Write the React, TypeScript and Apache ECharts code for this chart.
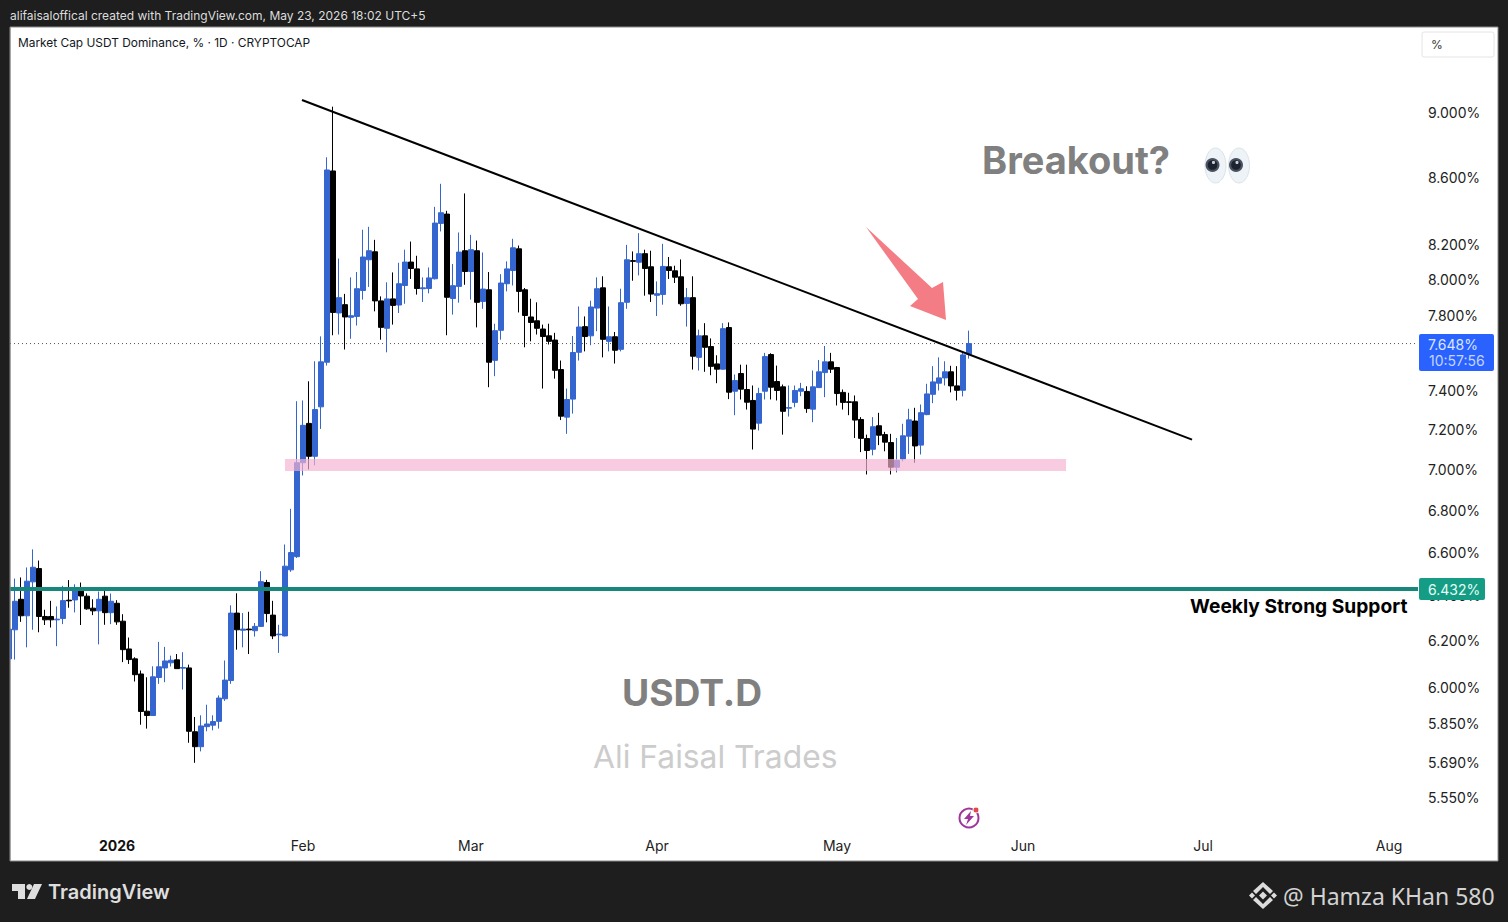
import React, { useEffect, useRef } from "react";
import * as echarts from "echarts";

// Day offset from 1 Jan 2026 of the first candle
const firstDay = -18;
const opens = [6.122,6.249,6.385,6.311,6.464,6.525,6.308,6.308,6.293,6.299,6.381,6.382,6.426,6.399,6.345,6.333,6.399,6.325,6.367,6.287,6.165,6.122,6.057,5.900,5.882,6.042,6.083,6.105,6.118,6.082,6.083,5.815,
5.754,5.836,5.842,5.858,5.952,6.029,6.323,6.247,6.252,6.245,6.264,6.461,6.314,6.227,6.222,6.519,6.580,7.031,7.229,7.063,7.314,7.548,8.639,7.815,7.861,7.791,7.796,7.940,8.114,8.160,7.882,7.731,7.893,7.859,7.968,8.101,8.062,7.950,7.951,8.006,8.325,8.380,7.895,7.963,8.166,8.047,8.166,7.879,7.944,7.558,7.720,7.978,8.053,8.177,7.944,7.793,7.772,7.727,7.690,7.667,7.509,7.261,7.354,7.601,7.740,7.690,7.842,7.955,7.660,7.685,7.617,7.874,8.109,8.100,8.149,8.074,7.913,7.918,8.074,8.051,8.017,7.868,7.900,7.574,7.690,7.632,7.539,7.511,7.735,7.395,7.488,7.404,7.347,7.230,7.395,7.589,7.446,7.418,7.307,7.337,7.395,7.394,7.302,7.414,7.493,7.550,7.520,7.389,7.340,7.340,7.249,7.152,7.098,7.217,7.172,7.132,7.009,7.050,7.164,7.241,7.119,7.274,7.379,7.437,7.465,7.497,7.423,7.400,7.591];
const closes = [6.252,6.376,6.311,6.467,6.531,6.308,6.293,6.293,6.296,6.379,6.378,6.434,6.400,6.342,6.333,6.385,6.325,6.376,6.284,6.162,6.119,6.054,5.899,5.882,6.045,6.088,6.113,6.116,6.080,6.085,5.817,5.754,
5.839,5.847,5.857,5.955,6.031,6.323,6.249,6.252,6.249,6.264,6.465,6.321,6.222,6.230,6.536,6.599,7.031,7.219,7.063,7.300,7.550,8.645,7.818,7.900,7.793,7.800,7.950,8.130,8.166,7.882,7.736,7.893,7.857,7.978,8.101,8.064,7.951,7.955,8.011,8.327,8.388,7.902,7.967,8.158,8.047,8.172,7.874,7.948,7.548,7.718,7.982,8.062,8.183,7.935,7.801,7.763,7.731,7.686,7.660,7.505,7.266,7.352,7.600,7.738,7.686,7.848,7.950,7.671,7.685,7.612,7.872,8.114,8.105,8.149,8.064,7.920,7.922,8.076,8.053,8.015,7.866,7.900,7.580,7.690,7.628,7.526,7.511,7.729,7.390,7.451,7.406,7.338,7.200,7.383,7.578,7.416,7.399,7.291,7.310,7.399,7.408,7.305,7.418,7.497,7.550,7.511,7.383,7.337,7.337,7.246,7.153,7.092,7.212,7.169,7.134,7.009,7.042,7.166,7.247,7.115,7.284,7.381,7.444,7.465,7.497,7.423,7.400,7.587,7.648];
const lows = [6.114,6.119,6.284,6.172,6.249,6.238,6.270,6.259,6.177,6.274,6.347,6.326,6.270,6.338,6.314,6.185,6.271,6.274,6.271,6.108,6.100,6.025,5.844,5.828,5.880,6.015,6.022,6.089,6.079,5.991,5.770,5.689,
5.735,5.817,5.821,5.828,5.943,6.015,6.162,6.172,6.143,6.219,6.262,6.282,6.208,6.148,6.220,6.510,6.574,6.968,6.998,7.018,7.201,7.530,7.693,7.697,7.616,7.674,7.746,7.889,7.960,7.824,7.669,7.601,7.751,7.815,7.866,8.005,7.917,7.876,7.924,8.002,8.278,7.693,7.806,7.872,7.972,7.889,7.736,7.838,7.416,7.474,7.669,7.935,7.968,7.818,7.628,7.660,7.697,7.409,7.643,7.461,7.246,7.176,7.279,7.557,7.606,7.639,7.715,7.574,7.606,7.541,7.606,7.838,7.995,8.025,7.911,7.876,7.798,7.861,8.005,7.982,7.855,7.740,7.509,7.504,7.497,7.479,7.437,7.509,7.354,7.271,7.352,7.300,7.097,7.193,7.352,7.352,7.347,7.172,7.264,7.312,7.369,7.283,7.235,7.413,7.364,7.491,7.321,7.300,7.271,7.155,7.084,6.973,7.068,7.119,7.088,6.973,6.983,7.038,7.075,7.031,7.072,7.271,7.333,7.399,7.425,7.389,7.347,7.368,7.567];
const highs = [6.274,6.479,6.484,6.530,6.614,6.562,6.338,6.378,6.353,6.446,6.472,6.453,6.461,6.412,6.385,6.420,6.427,6.411,6.381,6.318,6.215,6.129,6.072,6.043,6.090,6.196,6.174,6.136,6.143,6.151,6.097,5.876,
5.883,5.927,5.883,5.966,6.115,6.358,6.412,6.323,6.329,6.279,6.513,6.473,6.378,6.271,6.637,6.806,7.343,7.347,7.447,7.553,7.687,8.723,9.040,8.121,7.921,8.014,8.044,8.288,8.305,8.229,7.907,7.986,8.042,8.097,8.172,8.219,8.137,8.014,8.070,8.423,8.561,8.399,8.090,8.272,8.503,8.258,8.225,8.156,8.044,7.756,8.032,8.105,8.235,8.196,7.954,7.894,7.874,7.751,7.756,7.706,7.557,7.409,7.689,7.851,7.796,7.883,8.014,8.020,7.851,7.711,7.950,8.200,8.162,8.268,8.172,8.166,7.991,8.206,8.130,8.080,8.116,7.954,8.020,7.724,7.759,7.676,7.585,7.759,7.763,7.483,7.535,7.535,7.425,7.413,7.598,7.596,7.530,7.430,7.425,7.425,7.439,7.421,7.504,7.560,7.635,7.598,7.523,7.404,7.387,7.373,7.261,7.172,7.261,7.283,7.186,7.176,7.155,7.227,7.304,7.309,7.326,7.434,7.527,7.574,7.553,7.529,7.527,7.598,7.718];

const priceTicks = [9, 8.6, 8.2, 8, 7.8, 7.4, 7.2, 7, 6.8, 6.6, 6.4, 6.2, 6, 5.85, 5.69, 5.55];
const monthDays = [0, 31, 59, 90, 120, 151, 181, 212];
const monthLabels = ["2026", "Feb", "Mar", "Apr", "May", "Jun", "Jul", "Aug"];

const xMin = -17.83;
const xMax = 216.83;
const yMin = 5.308;
const yMax = 9.563;

const lastPrice = 7.648;
const supportPrice = 6.432;
const trendLine = [[30.83, 9.083], [179.17, 7.147]];
const supportZone = [[28, 158.17, 6.99, 7.049]];

const headerText = "alifaisaloffical created with TradingView.com, May 23, 2026 18:02 UTC+5";
const titleText = "Market Cap USDT Dominance, % \u00b7 1D \u00b7 CRYPTOCAP";

const UI = "Inter, 'Noto Sans', sans-serif";
const BLUE = "#3566cf";

function txt(x: number, y: number, text: string, fontSize: number, fill: string, extra: any = {}, z = 30) {
  return {
    type: "text", x, y, z,
    style: { text, fontSize, fill, fontFamily: UI, textVerticalAlign: "middle", verticalAlign: "middle", ...extra },
  };
}
function poly(points: number[][], fill: string, z = 30) {
  return { type: "polygon", z, shape: { points }, style: { fill } };
}

export default function App() {
  const ref = useRef<HTMLDivElement>(null);
  useEffect(() => {
    document.body.style.margin = "0";
    const chart = echarts.init(ref.current!, undefined, { renderer: "svg" });
    const candles = opens.map((o, i) => [firstDay + i, o, closes[i], lows[i], highs[i]]);
    chart.setOption({
      animation: false,
      backgroundColor: "#1e1e1e",
      grid: { left: 10, right: 90, top: 27, bottom: 61 },
      xAxis: {
        type: "value", min: xMin, max: xMax,
        splitLine: { show: false }, axisLine: { show: false }, axisTick: { show: false },
        axisLabel: {
          inside: true, margin: 9, customValues: monthDays, color: "#222", fontSize: 14, fontFamily: UI,
          hideOverlap: false,
          formatter: (v: number) => {
            const s = monthLabels[monthDays.indexOf(Math.round(v))];
            return s === "2026" ? `{b|${s}}` : s;
          },
          rich: { b: { fontWeight: "bold", fontSize: 14, color: "#111", fontFamily: UI } },
        },
      },
      yAxis: {
        type: "log", position: "right", min: yMin, max: yMax,
        splitLine: { show: false }, axisLine: { show: false }, axisTick: { show: false },
        axisLabel: {
          customValues: priceTicks, margin: 10, color: "#222", fontSize: 14, fontFamily: UI,
          padding: [0, 0, 2, 0],
          hideOverlap: false, showMinLabel: true, showMaxLabel: true,
          formatter: (v: number) => v.toFixed(3) + "%",
        },
      },
      series: [
        {
          type: "line", z: 1, silent: true, symbol: "none",
          data: [[xMin, lastPrice], [xMax, lastPrice]],
          lineStyle: { color: "#555", width: 1, type: [1, 3] },
        },
        {
          type: "candlestick", z: 2, barWidth: 5, silent: true,
          encode: { x: 0, y: [1, 2, 3, 4] },
          data: candles,
          itemStyle: { color: BLUE, color0: "#000", borderColor: BLUE, borderColor0: "#000", borderWidth: 1 },
        },
        {
          type: "custom", z: 3, silent: true,
          encode: { x: [0, 1], y: [2, 3] },
          data: supportZone,
          renderItem: (_: any, api: any) => {
            const a = api.coord([api.value(0), api.value(3)]);
            const b = api.coord([api.value(1), api.value(2)]);
            return {
              type: "rect",
              shape: { x: a[0], y: a[1], width: b[0] - a[0], height: b[1] - a[1] },
              style: { fill: "rgba(246,178,210,0.68)" },
            };
          },
        },
        {
          type: "line", z: 4, silent: true, symbol: "none",
          data: [[xMin, supportPrice], [xMax, supportPrice]],
          lineStyle: { color: "#16877a", width: 4 },
        },
        {
          type: "line", z: 5, silent: true, symbol: "none",
          data: trendLine,
          lineStyle: { color: "#000", width: 2 },
        },
      ],
      graphic: {
        elements: [
          { type: "rect", z: -1, shape: { x: 10, y: 27, width: 1488, height: 834 }, style: { fill: "#fff", stroke: "#8a8a8a", lineWidth: 1 } },
          { type: "rect", z: 50, shape: { x: 0, y: 27, width: 10, height: 834 }, style: { fill: "#1e1e1e" } },
          { type: "line", z: 51, shape: { x1: 10, y1: 27, x2: 10, y2: 861 }, style: { stroke: "#8a8a8a", lineWidth: 1 } },
          txt(10, 15, headerText, 12, "#dcdcdc"),
          txt(18, 42.5, titleText, 11.9, "#131722"),
          { type: "rect", z: 30, shape: { x: 1422, y: 32, width: 72, height: 25, r: 2 }, style: { fill: "#fff", stroke: "#e4e4e4", lineWidth: 1 } },
          txt(1431, 44, "%", 12, "#333", {}, 31),

          { type: "rect", z: 40, shape: { x: 1419, y: 334, width: 75, height: 37, r: 2 }, style: { fill: "#2962ff" } },
          txt(1428, 344, "7.648%", 14, "#dbe6ff", {}, 41),
          txt(1429, 360, "10:57:56", 14, "#c4d5ff", {}, 41),
          { type: "rect", z: 40, shape: { x: 1419, y: 578, width: 66, height: 22, r: 2 }, style: { fill: "#149c84" } },
          txt(1428, 589, "6.432%", 14, "#e6fff8", {}, 41),

          txt(982, 160, "Breakout?", 38, "#808080", { fontWeight: "bold" }),
          { type: "ellipse", z: 30, shape: { cx: 1215.5, cy: 165.5, rx: 10.5, ry: 17.5 }, style: { fill: "#eef3f7", stroke: "#dbe3ea", lineWidth: 1 } },
          { type: "ellipse", z: 30, shape: { cx: 1239, cy: 165.5, rx: 10.5, ry: 17.5 }, style: { fill: "#eef3f7", stroke: "#dbe3ea", lineWidth: 1 } },
          { type: "circle", z: 31, shape: { cx: 1212.5, cy: 165, r: 7 }, style: { fill: "#4a5261" } },
          { type: "circle", z: 31, shape: { cx: 1236, cy: 165, r: 7 }, style: { fill: "#4a5261" } },
          { type: "circle", z: 32, shape: { cx: 1212.5, cy: 165, r: 4.8 }, style: { fill: "#1c222e" } },
          { type: "circle", z: 32, shape: { cx: 1236, cy: 165, r: 4.8 }, style: { fill: "#1c222e" } },
          { type: "circle", z: 33, shape: { cx: 1213.5, cy: 162.5, r: 1.6 }, style: { fill: "#c8ccd4" } },
          { type: "circle", z: 33, shape: { cx: 1237, cy: 162.5, r: 1.6 }, style: { fill: "#c8ccd4" } },

          poly([[866, 227], [932, 288], [943, 282], [946, 320], [910, 306], [918, 299]], "#f47c84"),

          txt(1190, 606, "Weekly Strong Support", 19.2, "#000", { fontWeight: "bold" }),
          txt(622, 692, "USDT.D", 37.2, "#808080", { fontWeight: "bold" }),
          txt(593, 756, "Ali Faisal Trades", 31.8, "#cccccc"),

          { type: "circle", z: 30, shape: { cx: 969, cy: 818, r: 9.5 }, style: { fill: "#fff", stroke: "#a0359a", lineWidth: 2 } },
          poly([[971, 811], [964, 819], [968, 819], [966, 825], [974, 816], [970, 816]], "#a0359a", 31),
          { type: "circle", z: 32, shape: { cx: 976, cy: 810, r: 3 }, style: { fill: "#e04a4a", stroke: "#fff", lineWidth: 1 } },

          poly([[12, 884], [25, 884], [25, 899], [18, 899], [18, 891], [12, 891]], "#dedede"),
          { type: "circle", z: 30, shape: { cx: 29.3, cy: 887, r: 3 }, style: { fill: "#dedede" } },
          poly([[34, 884], [42, 884], [35, 899], [27, 899]], "#dedede"),
          txt(48, 892, "TradingView", 20, "#dedede", { fontWeight: 600 }),

          poly([[1263, 882], [1273, 891], [1270, 894], [1263, 887], [1256, 894], [1253, 891]], "#dcdcdc"),
          poly([[1263, 909], [1273, 900], [1270, 897], [1263, 904], [1256, 897], [1253, 900]], "#dcdcdc"),
          poly([[1263, 891.5], [1267, 895.5], [1263, 899.5], [1259, 895.5]], "#dcdcdc"),
          poly([[1274, 892.5], [1277, 895.5], [1274, 898.5], [1271, 895.5]], "#dcdcdc"),
          poly([[1252, 892.5], [1255, 895.5], [1252, 898.5], [1249, 895.5]], "#dcdcdc"),
          txt(1283, 896, "@ Hamza KHan 580", 23, "#d2d2d2", { fontFamily: "'Noto Sans', sans-serif" }),
        ],
      },
    });
    return () => chart.dispose();
  }, []);
  return <div ref={ref} style={{ position: "fixed", left: 0, top: 0, width: 1508, height: 922 }} />;
}
